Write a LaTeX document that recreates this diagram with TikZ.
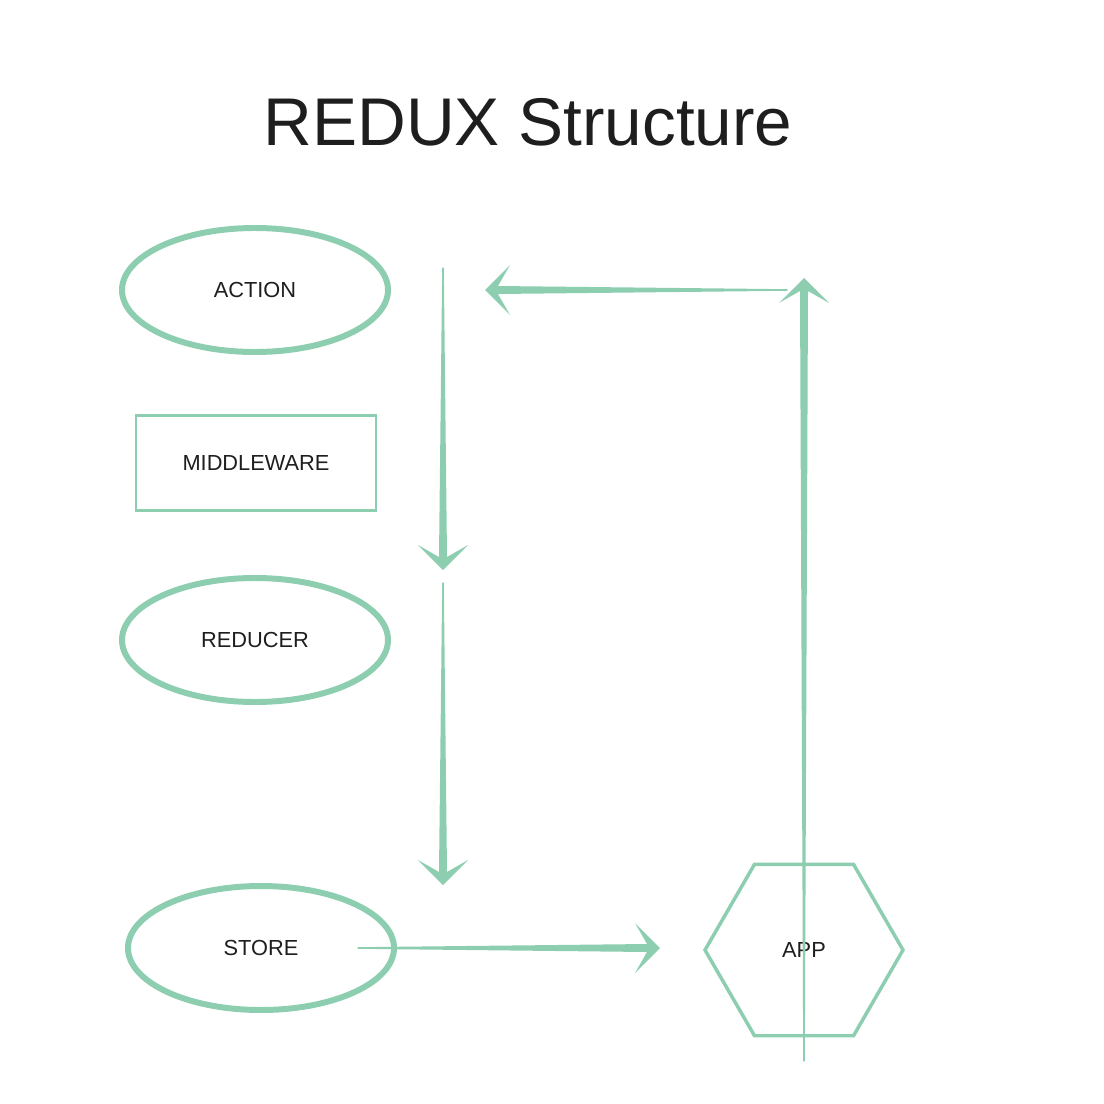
\documentclass[tikz,border=0pt]{standalone}
\usepackage{fontspec}
\setmainfont{Liberation Sans}
\usetikzlibrary{shapes.geometric}
\definecolor{mint}{HTML}{8DCDB0}
\definecolor{txt}{HTML}{1E1E1E}
\newcommand\taparrow[3]{% tail, tip, angle
  \path (#1) coordinate (t) (#2) coordinate (h);
  \begin{scope}[shift={(h)},rotate=#3]
    \path let \p1=($(t)-(h)$), \n1={veclen(\x1,\y1)/0.025cm} in
      [fill=mint] (0,0)--(-25,25)--(-13,4)--(-\n1,0.8)--(-\n1,-0.8)--(-13,-4)--(-25,-25)--cycle;
  \end{scope}}
\usetikzlibrary{calc}
\begin{document}
\begin{tikzpicture}[x=0.025cm,y=-0.025cm,
  ell/.style={draw=mint,ellipse,line width=6pt*0.025/0.0352778,minimum width=266*0.025cm,minimum height=124*0.025cm,text=txt,font=\fontsize{15.5}{18}\selectfont},
  lbl/.style={text=txt,font=\fontsize{15.5}{18}\selectfont}]
\useasboundingbox (0,0) rectangle (1104,1104);
\node[text=txt,font=\fontsize{48}{56}\selectfont] (title) at (528,122) {REDUX Structure};
\node[ell] (action) at (255,290) {ACTION};
\node[ell] (reducer) at (255,640) {REDUCER};
\node[ell] (store) at (261,948) {STORE};
\node[draw=mint,line width=2.5pt*0.025/0.0352778,minimum width=240*0.025cm,minimum height=95*0.025cm,lbl] (mw) at (256,463) {MIDDLEWARE};
\node[draw=mint,regular polygon,regular polygon sides=6,line width=3.5pt*0.025/0.0352778,minimum size=198*0.025cm,lbl] (app) at (804,950) {APP};
\coordinate (a1t) at (700,290); \coordinate (a1h) at (485,290);
\coordinate (a2t) at (443,355); \coordinate (a2h) at (443,570);
\coordinate (a3t) at (443,670); \coordinate (a3h) at (443,885);
\coordinate (a4t) at (445,948); \coordinate (a4h) at (660,948);
\coordinate (a5t) at (804,835); \coordinate (a5h) at (804,278);
\taparrow{a1t}{a1h}{180}
\taparrow{a2t}{a2h}{-90}
\taparrow{a3t}{a3h}{-90}
\taparrow{a4t}{a4h}{0}
\taparrow{a5t}{a5h}{90}
\end{tikzpicture}
\end{document}
